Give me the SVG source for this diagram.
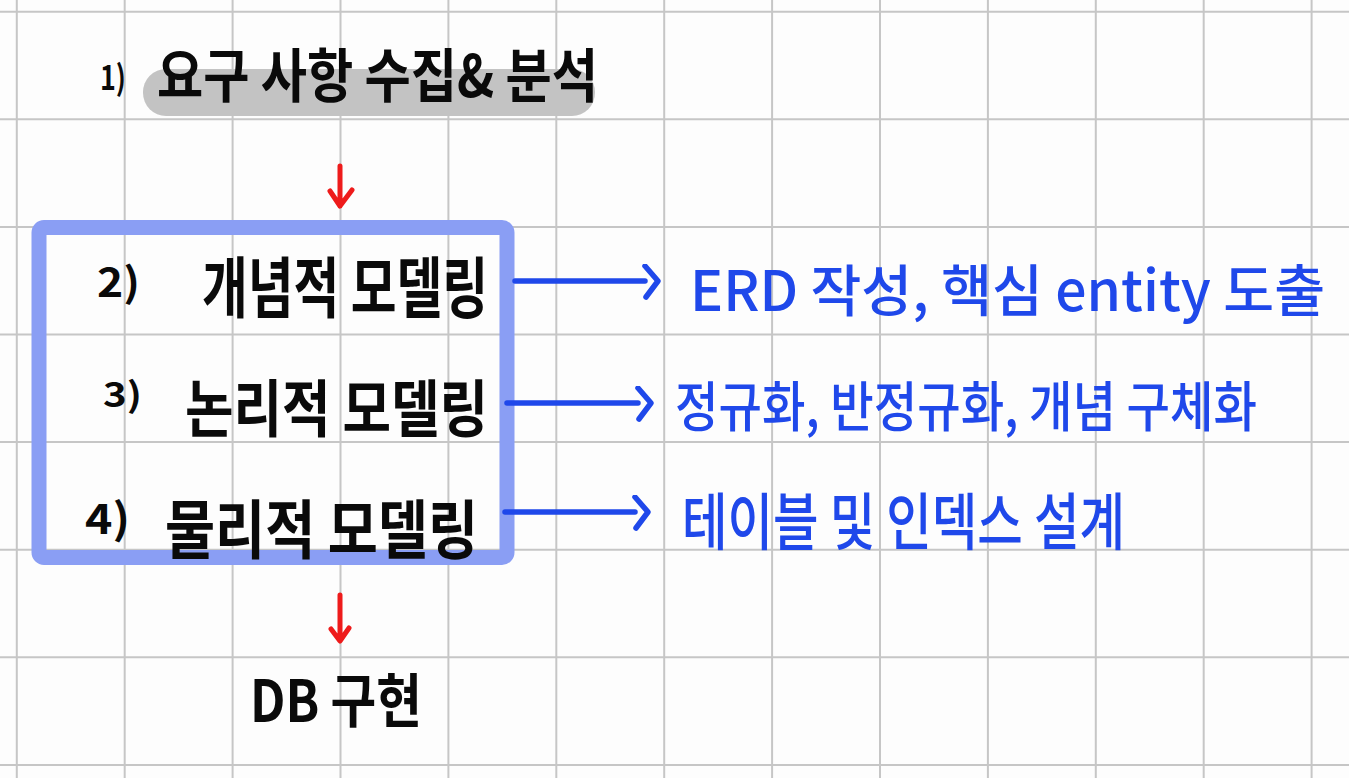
<svg xmlns="http://www.w3.org/2000/svg" width="1349" height="778" viewBox="0 0 1349 778">
<defs>
<style>
.grid line{stroke:#c6c6c6;stroke-width:2}
.blk{font-family:"Noto Sans CJK KR","Noto Sans",sans-serif;font-weight:700;fill:#0a0a0a}
.blu{font-family:"Noto Sans CJK KR","Noto Sans",sans-serif;font-weight:500;fill:#1f48ea}
.red{stroke:#ee1b1b;stroke-width:5;fill:none;stroke-linecap:round;stroke-linejoin:round}
.conn{stroke:#1f48ea;stroke-width:5.5;fill:none;stroke-linecap:round}
</style>
<marker id="chev" viewBox="0 0 20 36" refX="3" refY="17" markerWidth="20" markerHeight="36" markerUnits="userSpaceOnUse" orient="auto">
<path d="M3,2 L16,17 L4,33" fill="none" stroke="#1f48ea" stroke-width="5.5" stroke-linecap="round" stroke-linejoin="round"/>
</marker>
</defs>
<rect width="1349" height="778" fill="#fdfdfd"/>
<g class="grid">
<line x1="16.8" y1="0" x2="16.8" y2="778"/>
<line x1="124.7" y1="0" x2="124.7" y2="778"/>
<line x1="232.6" y1="0" x2="232.6" y2="778"/>
<line x1="340.5" y1="0" x2="340.5" y2="778"/>
<line x1="448.4" y1="0" x2="448.4" y2="778"/>
<line x1="556.3" y1="0" x2="556.3" y2="778"/>
<line x1="664.2" y1="0" x2="664.2" y2="778"/>
<line x1="772.1" y1="0" x2="772.1" y2="778"/>
<line x1="880" y1="0" x2="880" y2="778"/>
<line x1="987.9" y1="0" x2="987.9" y2="778"/>
<line x1="1095.8" y1="0" x2="1095.8" y2="778"/>
<line x1="1203.7" y1="0" x2="1203.7" y2="778"/>
<line x1="1311.6" y1="0" x2="1311.6" y2="778"/>
<line x1="0" y1="11.7" x2="1349" y2="11.7"/>
<line x1="0" y1="119.3" x2="1349" y2="119.3"/>
<line x1="0" y1="226.9" x2="1349" y2="226.9"/>
<line x1="0" y1="334.5" x2="1349" y2="334.5"/>
<line x1="0" y1="442.1" x2="1349" y2="442.1"/>
<line x1="0" y1="549.7" x2="1349" y2="549.7"/>
<line x1="0" y1="657.3" x2="1349" y2="657.3"/>
<line x1="0" y1="764.9" x2="1349" y2="764.9"/>
</g>
<g id="step1">
<rect x="143" y="69" width="452" height="47" rx="23" fill="#c3c3c3"/>
<text class="blk" x="100" y="90" font-size="34" textLength="26" lengthAdjust="spacingAndGlyphs">1)</text>
<text class="blk" x="157" y="97" font-size="58" textLength="441" lengthAdjust="spacingAndGlyphs">요구 사항 수집&amp; 분석</text>
</g>
<g id="modeling-box">
<rect x="39" y="227.5" width="468" height="330" rx="5" fill="none" stroke="#8a9ef4" stroke-width="15"/>
</g>
<g id="step2">
<text class="blk" x="97" y="297" font-size="40" textLength="43" lengthAdjust="spacingAndGlyphs">2)</text>
<text class="blk" x="202" y="312" font-size="66" textLength="286" lengthAdjust="spacingAndGlyphs">개념적 모델링</text>
</g>
<g id="step3">
<text class="blk" x="103" y="407" font-size="34" textLength="39" lengthAdjust="spacingAndGlyphs">3)</text>
<text class="blk" x="185" y="432" font-size="62" textLength="303" lengthAdjust="spacingAndGlyphs">논리적 모델링</text>
</g>
<g id="step4">
<text class="blk" x="85" y="534" font-size="42" textLength="45" lengthAdjust="spacingAndGlyphs">4)</text>
<text class="blk" x="165" y="553" font-size="64" textLength="313" lengthAdjust="spacingAndGlyphs">물리적 모델링</text>
</g>
<g id="db">
<text class="blk" x="250" y="722" font-size="58" textLength="172" lengthAdjust="spacingAndGlyphs">DB 구현</text>
</g>
<g id="note2">
<text class="blu" x="690" y="311" font-size="56" textLength="635" lengthAdjust="spacingAndGlyphs">ERD 작성, 핵심 entity 도출</text>
</g>
<g id="note3">
<text class="blu" x="675" y="427" font-size="54" textLength="582" lengthAdjust="spacingAndGlyphs">정규화, 반정규화, 개념 구체화</text>
</g>
<g id="note4">
<text class="blu" x="682" y="545" font-size="62" textLength="443" lengthAdjust="spacingAndGlyphs">테이블 및 인덱스 설계</text>
</g>
<g id="connectors">
<path class="red" d="M340,166 L340,206 M330,191 L340,206 L352,190"/>
<path class="red" d="M340,595 L340,640 M331,629 L340,641 L349,628"/>
<path class="conn" d="M515,281 L645,281" marker-end="url(#chev)"/>
<path class="conn" d="M507,403 L638,403" marker-end="url(#chev)"/>
<path class="conn" d="M505,512 L635,512" marker-end="url(#chev)"/>
</g>
</svg>
